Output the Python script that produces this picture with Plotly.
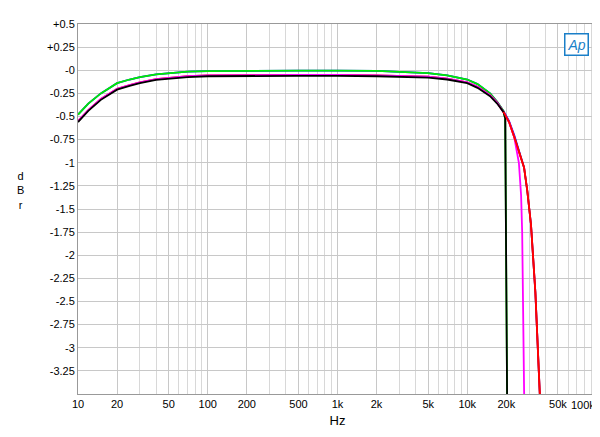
import plotly.graph_objects as go

base_f = [10, 12, 15, 20, 25, 30, 40, 50, 70, 100, 200, 500, 1000, 2000, 5000, 7000, 10000, 12000, 15000, 17000, 19000]
hi_level = [-0.48, -0.36, -0.25, -0.14, -0.1, -0.075, -0.045, -0.03, -0.015, -0.01, -0.005, -0.005, -0.005, -0.007, -0.03, -0.055, -0.1, -0.15, -0.25, -0.34, -0.44]
lo_level = [-0.56, -0.44, -0.32, -0.21, -0.17, -0.14, -0.105, -0.09, -0.075, -0.065, -0.06, -0.06, -0.06, -0.065, -0.08, -0.1, -0.14, -0.19, -0.28, -0.36, -0.45]
mid_level = [-0.55, -0.43, -0.31, -0.2, -0.16, -0.13, -0.095, -0.08, -0.065, -0.055, -0.05, -0.05, -0.05, -0.055, -0.07, -0.09, -0.13, -0.18, -0.27, -0.35, -0.45]

f_20k = base_f + [19600, 20300]
green_db = hi_level + [-0.52, -3.6]
black_db = lo_level + [-0.52, -3.6]

f_27k = base_f + [21000, 23000, 24000, 25000, 26000, 26500, 27500]
magenta_db = mid_level + [-0.56, -0.72, -0.85, -1.0, -1.35, -1.75, -3.6]

f_36k = base_f + [21000, 23000, 25000, 27400, 29000, 31000, 33500, 36500]
blue_db = hi_level + [-0.55, -0.7, -0.88, -1.05, -1.3, -1.67, -2.4, -3.6]
red_db = mid_level + [-0.56, -0.72, -0.88, -1.05, -1.3, -1.67, -2.4, -3.6]

fig = go.Figure()
for f, y, c in [(f_36k, blue_db, "#0000ff"), (f_20k, green_db, "#00ee00"),
                (f_36k, red_db, "#ff0000"), (f_27k, magenta_db, "#ff00ff"),
                (f_20k, black_db, "#000000")]:
    fig.add_trace(go.Scatter(x=f, y=y, mode="lines", line=dict(color=c, width=1.8), showlegend=False))
fig.add_trace(go.Scatter(x=f_36k[-9:], y=red_db[-9:], mode="lines", line=dict(color="#ff0000", width=1.8), showlegend=False))

tickvals = [10, 20, 50, 100, 200, 500, 1000, 2000, 5000, 10000, 20000, 50000]
ticktext = ["10", "20", "50", "100", "200", "500", "1k", "2k", "5k", "10k", "20k", "50k"]
yvals = [0.5, 0.25, 0, -0.25, -0.5, -0.75, -1, -1.25, -1.5, -1.75, -2, -2.25, -2.5, -2.75, -3, -3.25]
ytext = ["+0.5", "+0.25", "-0", "-0.25", "-0.5", "-0.75", "-1", "-1.25", "-1.5", "-1.75", "-2", "-2.25", "-2.5", "-2.75", "-3", "-3.25"]

fig.update_layout(
    width=600, height=437, paper_bgcolor="white", plot_bgcolor="white",
    margin=dict(l=70, r=10, t=10, b=51),
    font=dict(family="Liberation Sans, Arial", size=11, color="black"),
    xaxis=dict(type="log", range=[1, 5], tickvals=tickvals, ticktext=ticktext,
               showgrid=True, gridcolor="#c8c8c8", gridwidth=1,
               minor=dict(showgrid=True, gridcolor="#d8d8d8", dtick="D1"),
               showline=True, linecolor="#999", mirror=True, ticks="", title=dict(text="Hz", standoff=6)),
    yaxis=dict(range=[-3.5, 0.5], tickvals=yvals, ticktext=ytext, showgrid=True, gridcolor="#c8c8c8",
               showline=True, linecolor="#999", mirror=True, ticks="", zeroline=False),
)
fig.add_annotation(text="100k", xref="x", yref="paper", x=5, y=0, yshift=-3, showarrow=False,
                   xanchor="right", yanchor="top", font=dict(size=11))
fig.add_annotation(text="d<br>B<br>r", xref="paper", yref="paper", x=-0.11, y=0.55, showarrow=False,
                   font=dict(size=11), align="center", xanchor="center")
fig.add_annotation(text="<i>Ap</i>", xref="paper", yref="paper", x=0.985, y=0.975, showarrow=False,
                   font=dict(size=14, color="#1a7fc8"), bordercolor="#1a7fc8", borderwidth=1.5,
                   borderpad=2, bgcolor="white", xanchor="right", yanchor="top")
fig.write_html("out.html")
